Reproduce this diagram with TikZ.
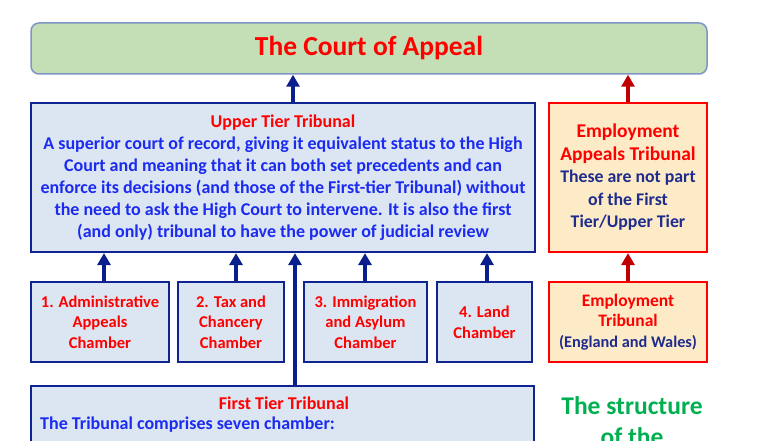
\documentclass[tikz,border=0pt]{standalone}
\usepackage{fontspec}
\setmainfont{Carlito}
\usetikzlibrary{arrows.meta}

\definecolor{courtfill}{HTML}{C4DFB5}
\definecolor{courtline}{HTML}{7F95C6}
\definecolor{tierfill}{HTML}{DCE6F2}
\definecolor{tierline}{HTML}{0F2391}
\definecolor{empfill}{HTML}{FDEBC8}
\definecolor{titlered}{HTML}{FF0000}
\definecolor{bodyblue}{HTML}{1B2BF0}
\definecolor{empnavy}{HTML}{1F2C8C}
\definecolor{arrowblue}{HTML}{0A1E8C}
\definecolor{arrowred}{HTML}{C00000}
\definecolor{structgreen}{HTML}{00B050}

\tikzset{
  tierbox/.style={draw=tierline, line width=2.2pt, fill=tierfill, inner sep=0pt, align=center},
  empbox/.style={draw=titlered, line width=2.2pt, fill=empfill, inner sep=0pt, align=center},
  bluearrow/.style={draw=arrowblue, line width=4pt, -{Triangle[width=13pt,length=12pt]}},
  redarrow/.style={draw=arrowred, line width=4.5pt, -{Triangle[width=13pt,length=12pt]}},
  chamberfont/.style={font=\fontsize{16.5}{20.7}\selectfont\bfseries, text=titlered}
}

\begin{document}
\begin{tikzpicture}[x=1pt,y=-1pt]
\useasboundingbox (0,0) rectangle (784,441);
\clip (0,0) rectangle (784,441);
% Court of Appeal
\node[draw=courtline, line width=1.5pt, fill=courtfill, rounded corners=8pt,
  minimum width=676, minimum height=51, text=titlered,
  font=\fontsize{27.5}{30}\selectfont\bfseries] (court) at (369,48.5) {The Court of Appeal};
% Upper Tier and Employment Appeals
\node[tierbox, minimum width=504, minimum height=149, text=bodyblue,
  font=\fontsize{18}{22}\selectfont\bfseries] (utt) at (283,177.5)
  {\textcolor{titlered}{Upper Tier Tribunal}\\
   A superior court of record, giving it equivalent status to the High\\
   Court and meaning that it can both set precedents and can\\
   enforce its decisions (and those of the First-tier Tribunal) without\\
   the need to ask the High Court to intervene. It is also the first\\
   (and only) tribunal to have the power of judicial review};
\node[empbox, minimum width=158, minimum height=149, text=empnavy,
  font=\fontsize{17.8}{22.5}\selectfont\bfseries] (eat) at (628,177.5)
  {{\fontsize{19.5}{22.5}\selectfont\textcolor{titlered}{Employment}}\\
   {\fontsize{19.5}{23.5}\selectfont\textcolor{titlered}{Appeals Tribunal}}\\
   These are not part\\ of the First\\ Tier/Upper Tier};
% Chambers
\node[tierbox, chamberfont, minimum width=138, minimum height=80] (adm) at (100,322)
  {1. Administrative\\ Appeals\\ Chamber};
\node[tierbox, chamberfont, minimum width=106, minimum height=80] (tax) at (231,322)
  {2. Tax and\\ Chancery\\ Chamber};
\node[tierbox, chamberfont, minimum width=123, minimum height=80] (imm) at (365.5,322)
  {3. Immigration\\ and Asylum\\ Chamber};
\node[tierbox, chamberfont, minimum width=95, minimum height=80] (land) at (484.5,322)
  {4. Land\\ Chamber};
\node[empbox, minimum width=158, minimum height=80, text=empnavy,
  font=\fontsize{16.3}{20.7}\selectfont\bfseries] (et) at (628,322)
  {{\fontsize{17.5}{20.7}\selectfont\textcolor{titlered}{Employment}}\\
   {\fontsize{17.5}{20.7}\selectfont\textcolor{titlered}{Tribunal}}\\ (England and Wales)};
% First Tier Tribunal
\node[tierbox, minimum width=503, minimum height=120, anchor=north] (ftt) at (282.5,385) {};
\node[font=\fontsize{18}{22}\selectfont\bfseries, text=titlered] (ftttitle) at (284,403)
  {First Tier Tribunal};
\node[font=\fontsize{18}{22}\selectfont\bfseries, text=bodyblue, anchor=west, inner sep=0pt] (fttbody) at (40,425)
  {The Tribunal comprises seven chamber:};
\node[font=\fontsize{25.5}{31}\selectfont\bfseries, text=structgreen, align=center, anchor=north, inner sep=0pt]
  (structure) at (632,396) {The structure\\ of the};
% Arrows
\draw[bluearrow] (utt.north -| 293,0) -- (court.south -| 293,0);
\draw[redarrow] (eat.north) -- (eat.north |- court.south);
\draw[redarrow] (et.north) -- (eat.south);
\foreach \c/\x in {adm/104,tax/236,imm/365,land/487}
  \draw[bluearrow] (\c.north -| \x,0) -- (utt.south -| \x,0);
\draw[bluearrow] (ftt.north -| 295,0) -- (utt.south -| 295,0);
\end{tikzpicture}
\end{document}
